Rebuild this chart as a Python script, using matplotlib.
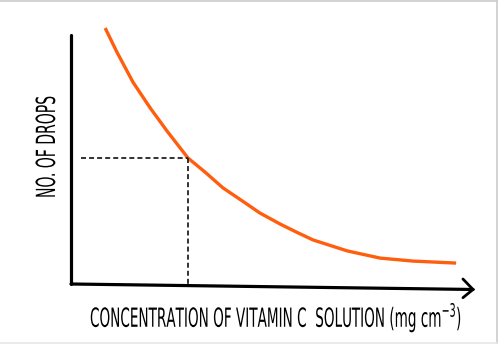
import matplotlib
matplotlib.use("Agg")
import matplotlib.pyplot as plt
from matplotlib.lines import Line2D
from matplotlib.patheffects import AbstractPathEffect
from matplotlib.transforms import Affine2D

# values (arbitrary units, axes run 0..10)
concentration = [0.85, 1.14, 1.54, 1.97, 2.39, 2.91, 3.33, 3.78, 4.23, 4.70,
                 5.20, 5.60, 6.02, 6.87, 7.69, 8.51, 9.58]
drops = [10.28, 9.32, 8.11, 7.07, 6.14, 5.06, 4.50, 3.86, 3.37, 2.85,
         2.41, 2.09, 1.77, 1.33, 1.04, 0.92, 0.84]
guide_x = 2.91
guide_y = 5.06
guide_start = 0.25

xlabel = "CONCENTRATION OF VITAMIN C  SOLUTION (mg cm$^{-3}$)"
ylabel = "NO. OF DROPS"


class Stretch(AbstractPathEffect):
    """Scale the glyphs in text space: tall narrow letters like the hand lettering."""

    def __init__(self, sx, sy):
        super().__init__()
        self.sx = sx
        self.sy = sy

    def draw_path(self, renderer, gc, tpath, affine, rgbFace=None):
        affine = Affine2D().scale(self.sx, self.sy) + affine
        renderer.draw_path(gc, tpath, affine, rgbFace)


plt.rcParams["font.family"] = ["DejaVu Sans"]
plt.rcParams["mathtext.fontset"] = "dejavusans"
plt.rcParams["lines.scale_dashes"] = False

fig = plt.figure(figsize=(5.0, 3.47), dpi=100)
ax = fig.add_axes([71 / 500, 63 / 347, 402 / 500, 249 / 347])
ax.set_xlim(0, 10)
ax.set_ylim(0, 10)
ax.axis("off")

# hand drawn axes
ax.plot([0, 0], [0, 10], color="black", lw=2.3, solid_capstyle="round", clip_on=False)
ax.plot([0, 10], [0, -0.22], color="black", lw=2.3, solid_capstyle="round", clip_on=False)
ax.plot([9.75, 10, 9.75], [0.2, -0.22, -0.55], color="black", lw=2.0,
        solid_capstyle="round", solid_joinstyle="miter", clip_on=False)

# curve
ax.plot(concentration, drops, color="#ff5e0e", lw=2.4, solid_capstyle="butt",
        solid_joinstyle="round", clip_on=False)

# reading lines
ax.plot([guide_start, guide_x], [guide_y, guide_y], color="#222222", lw=1.3,
        dashes=(3.6, 2.2))
ax.plot([guide_x, guide_x], [guide_y, 0.02], color="#222222", lw=1.3,
        dashes=(3.6, 2.2))

# labels: 10pt text stretched 1.9x in height, so 19pt tall and narrow
fig.text(90 / 500, 1 - 327 / 347, xlabel, fontsize=10, ha="left", va="baseline",
         path_effects=[Stretch(0.515 * 1.9, 1.9)])
fig.text(55 / 500, 1 - 198 / 347, ylabel, fontsize=10, ha="left", va="baseline",
         rotation=90, rotation_mode="anchor",
         path_effects=[Stretch(0.53 * 1.9, 1.9)])

# light frame around the picture
fig.add_artist(Line2D([0, 497 / 500], [1 - 1 / 347, 1 - 1 / 347], color="#cccccc", lw=1.2))
fig.add_artist(Line2D([497 / 500, 497 / 500], [1 - 1 / 347, 1 - 343 / 347], color="#cccccc", lw=1.2))
fig.add_artist(Line2D([0, 497 / 500], [1 - 343 / 347, 1 - 343 / 347], color="#e6e6e6", lw=1.2))

fig.savefig("out.png", dpi=100)
